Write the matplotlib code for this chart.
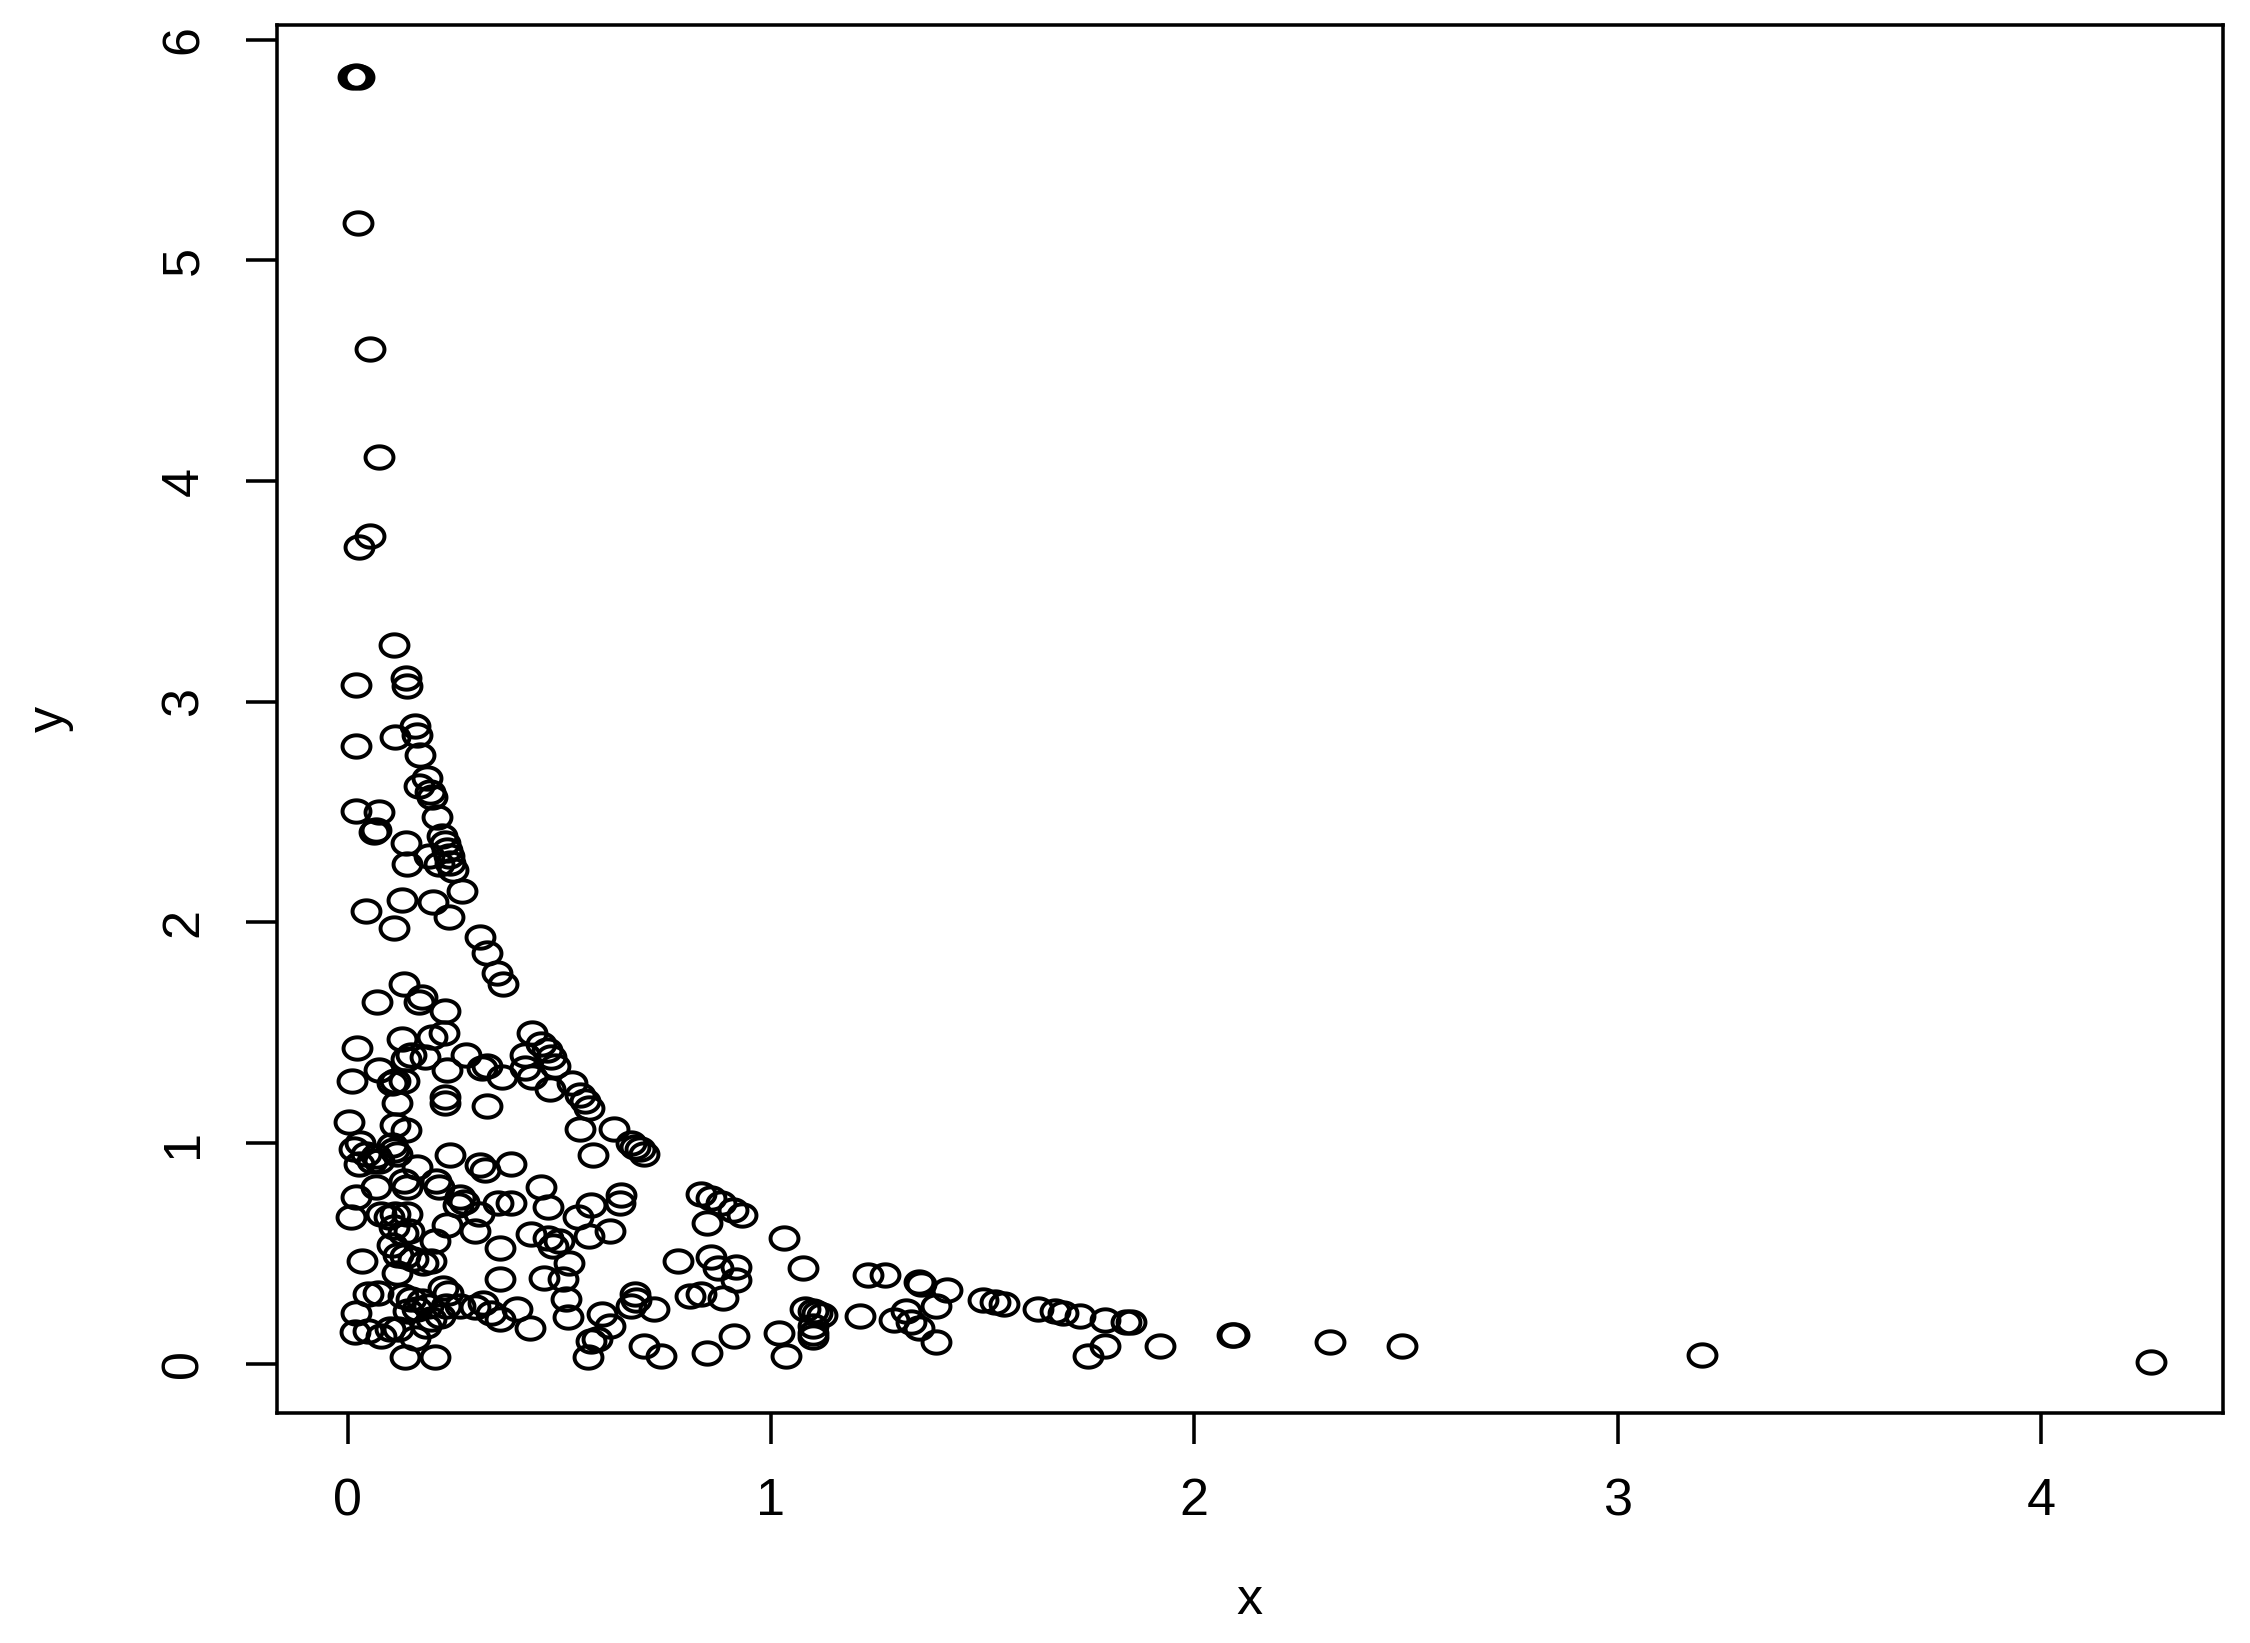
import numpy as np
import matplotlib
matplotlib.use("Agg")
import matplotlib.pyplot as plt
from matplotlib.path import Path

plt.rcParams['font.family'] = ['Liberation Sans', 'DejaVu Sans']

# --- points, grouped by region ---

# top of the plot
x_top = [0.014, 0.020, 0.026, 0.025, 0.054, 0.075, 0.054, 0.027]
y_top = [5.83, 5.835, 5.83, 5.17, 4.60, 4.11, 3.75, 3.70]

# band 1.7 .. 3.3
x_upper = [0.109, 0.019, 0.137, 0.140, 0.019, 0.160, 0.164, 0.113, 0.172, 0.188,
           0.168, 0.195, 0.200, 0.019, 0.074, 0.066, 0.062, 0.211, 0.223, 0.137,
           0.230, 0.235, 0.239, 0.243, 0.250, 0.192, 0.215, 0.140, 0.270, 0.129,
           0.203, 0.043, 0.239, 0.109, 0.313, 0.330, 0.352, 0.368, 0.133]
y_upper = [3.257, 3.077, 3.107, 3.070, 2.800, 2.890, 2.850, 2.840, 2.760, 2.656,
           2.620, 2.590, 2.566, 2.506, 2.500, 2.420, 2.410, 2.476, 2.390, 2.360,
           2.360, 2.330, 2.300, 2.270, 2.236, 2.300, 2.266, 2.266, 2.140, 2.100,
           2.093, 2.050, 2.026, 1.973, 1.935, 1.860, 1.770, 1.720, 1.720]

# band 0.6 .. 1.7 and the right part of the low cluster
x_mid = [0.070, 0.168, 0.176, 0.230, 0.435, 0.227, 0.200, 0.129, 0.023, 0.458,
         0.470, 0.480, 0.490, 0.420, 0.420, 0.280, 0.184, 0.137, 0.150, 0.074,
         0.317, 0.330, 0.234, 0.364, 0.113, 0.105, 0.133, 0.011, 0.435, 0.478,
         0.530, 0.550, 0.560, 0.570, 0.230, 0.230, 0.330, 0.117, 0.003, 0.113,
         0.137, 0.550, 0.630, 0.670, 0.680, 0.690, 0.700, 0.030, 0.015, 0.043,
         0.058, 0.027, 0.074, 0.066, 0.109, 0.117, 0.105, 0.580, 0.243, 0.165,
         0.313, 0.325, 0.387, 0.210, 0.215, 0.133, 0.140, 0.066, 0.458, 0.019,
         0.266, 0.274, 0.262, 0.356, 0.387, 0.646, 0.643, 0.835, 0.858, 0.882,
         0.910, 0.932, 0.474, 0.007, 0.078, 0.097, 0.113, 0.140, 0.310, 0.576,
         0.545, 0.850, 0.235, 0.109,
         0.780, 0.858, 0.874, 0.917, 0.917, 0.678, 0.682, 0.810, 0.835, 0.886,
         0.670, 0.725, 0.700, 0.740, 0.850, 0.913]
y_mid = [1.640, 1.640, 1.660, 1.600, 1.500, 1.500, 1.480, 1.470, 1.430, 1.450,
         1.420, 1.390, 1.350, 1.400, 1.340, 1.400, 1.390, 1.380, 1.400, 1.330,
         1.340, 1.350, 1.330, 1.300, 1.280, 1.270, 1.280, 1.280, 1.300, 1.245,
         1.270, 1.220, 1.190, 1.160, 1.210, 1.180, 1.170, 1.180, 1.095, 1.080,
         1.060, 1.065, 1.065, 1.000, 0.980, 0.975, 0.950, 1.000, 0.975, 0.950,
         0.920, 0.907, 0.920, 0.940, 0.967, 0.950, 0.990, 0.944, 0.944, 0.890,
         0.900, 0.877, 0.907, 0.830, 0.800, 0.830, 0.800, 0.800, 0.800, 0.757,
         0.757, 0.734, 0.720, 0.727, 0.727, 0.764, 0.727, 0.770, 0.750, 0.727,
         0.697, 0.674, 0.710, 0.667, 0.680, 0.667, 0.680, 0.680, 0.680, 0.720,
         0.667, 0.637, 0.630, 0.622,
         0.464, 0.486, 0.434, 0.440, 0.380, 0.314, 0.290, 0.306, 0.314, 0.300,
         0.260, 0.246, 0.080, 0.036, 0.050, 0.126]

# dense cluster near the origin
x_low = [0.033, 0.104, 0.130, 0.146, 0.206, 0.198, 0.178, 0.155, 0.120, 0.135,
         0.116, 0.300, 0.360, 0.360, 0.434, 0.473, 0.485, 0.500, 0.570, 0.620,
         0.524, 0.465, 0.510, 0.516, 0.520, 0.049, 0.072, 0.021, 0.017, 0.049,
         0.080, 0.100, 0.131, 0.151, 0.175, 0.190, 0.163, 0.143, 0.226, 0.237,
         0.233, 0.218, 0.198, 0.186, 0.120, 0.159, 0.135, 0.206, 0.300, 0.320,
         0.340, 0.360, 0.400, 0.430, 0.600, 0.620, 0.590, 0.575, 0.567, 0.265]
y_low = [0.465, 0.540, 0.593, 0.600, 0.556, 0.465, 0.458, 0.473, 0.495, 0.488,
         0.413, 0.600, 0.526, 0.383, 0.586, 0.570, 0.533, 0.556, 0.578, 0.600,
         0.458, 0.390, 0.383, 0.292, 0.210, 0.315, 0.322, 0.232, 0.142, 0.149,
         0.127, 0.157, 0.307, 0.292, 0.285, 0.262, 0.247, 0.240, 0.345, 0.322,
         0.262, 0.217, 0.202, 0.172, 0.157, 0.119, 0.029, 0.029, 0.255, 0.277,
         0.232, 0.202, 0.247, 0.164, 0.224, 0.172, 0.111, 0.104, 0.029, 0.262]

# long tail to the right
x_tail = [1.030, 1.075, 1.020, 1.035, 1.080, 1.100, 1.110, 1.120, 1.100, 1.100,
          1.100, 1.210, 1.230, 1.270, 1.290, 1.320, 1.330, 1.350, 1.350, 1.355,
          1.415, 1.390, 1.390, 1.500, 1.530, 1.550, 1.630, 1.670, 1.690, 1.730,
          1.790, 1.840, 1.850, 1.790, 1.750, 1.920, 2.090, 2.095, 2.320, 2.490,
          3.200, 4.260]
y_tail = [0.570, 0.434, 0.140, 0.035, 0.250, 0.240, 0.230, 0.220, 0.170, 0.140,
          0.120, 0.215, 0.404, 0.404, 0.200, 0.240, 0.190, 0.160, 0.370, 0.360,
          0.336, 0.260, 0.100, 0.290, 0.280, 0.270, 0.246, 0.240, 0.230, 0.215,
          0.200, 0.190, 0.190, 0.080, 0.035, 0.080, 0.130, 0.130, 0.098, 0.080,
          0.040, 0.010]

x = np.array(x_top + x_upper + x_mid + x_low + x_tail)
y = np.array(y_top + y_upper + y_mid + y_low + y_tail)

x_ticks = [0, 1, 2, 3, 4]
y_ticks = [0, 1, 2, 3, 4, 5, 6]

# the source image is stretched a bit horizontally, so circles are ellipses
th = np.linspace(0, 2 * np.pi, 80)
ring = Path(np.column_stack([np.cos(th), 0.8 * np.sin(th)]), closed=True)

fig = plt.figure(figsize=(7.5, 1643 / 300), dpi=300)
ax = fig.add_axes([0.123, 0.14, 0.865, 0.845])

ax.plot(x, y, linestyle='none', marker=ring, ms=6.7,
        mfc='none', mec='black', mew=0.95)

# R style 4% padding
rx = x.max() - x.min()
ry = y.max() - y.min()
ax.set_xlim(x.min() - 0.04 * rx, x.max() + 0.04 * rx)
ax.set_ylim(y.min() - 0.04 * ry, y.max() + 0.04 * ry)

ax.set_xticks(x_ticks)
ax.set_yticks(y_ticks)
for s in ax.spines.values():
  s.set_linewidth(0.85)
ax.tick_params(direction='out', length=7.4, width=0.85, labelsize=12.5)
ax.tick_params(axis='x', pad=8)
ax.tick_params(axis='y', pad=9, labelrotation=90)
for t in ax.get_yticklabels():
  t.set_va('center')

ax.set_xlabel('x', fontsize=12.5)
ax.set_ylabel('y', fontsize=12.5)
ax.xaxis.set_label_coords(0.5, -0.135)
ax.xaxis.label.set_va('center')
ax.yaxis.set_label_coords(-0.117, 0.5)
ax.yaxis.label.set_va('center')

fig.savefig('out.png', dpi=300)
